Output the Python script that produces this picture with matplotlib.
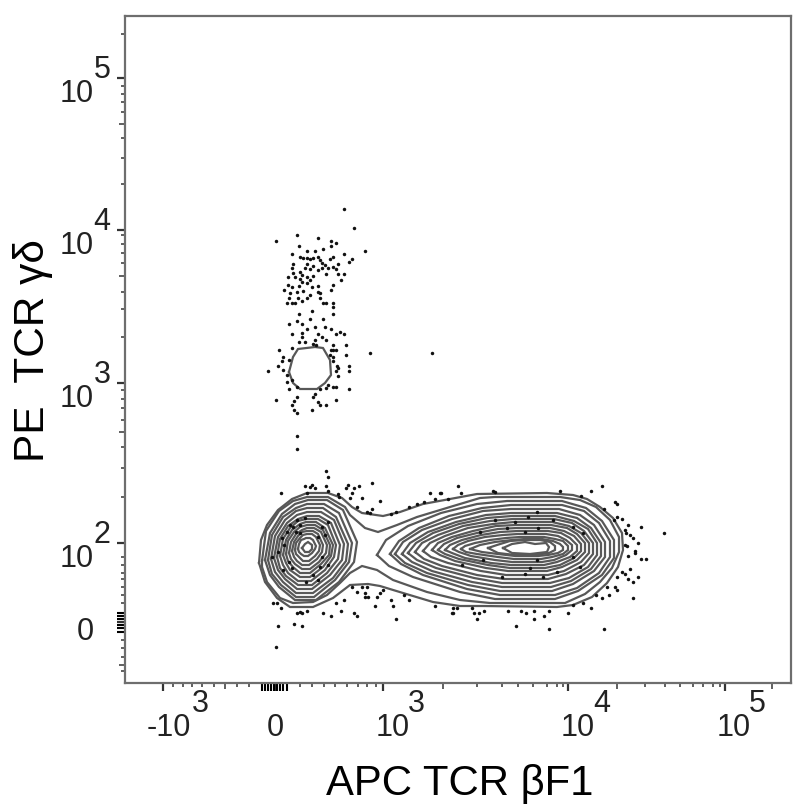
import matplotlib
matplotlib.use("Agg")
from matplotlib import pyplot as plt

# everything is in plot channels of the biexponential display, not in raw fluorescence
x_major = [163, 275, 383, 568, 725]
x_base = ["-10", "0", "10", "10", "10"]
x_exp = ["3", "", "3", "4", "5"]
x_nudge = [-16, -8, -7, -7, -8]
y_major = [78, 230, 383, 543]
y_base = ["10", "10", "10", "10"]
y_exp = ["5", "4", "3", "2"]
y_zero = 622

x_medium = [225, 443, 617, 772]
y_medium = [124, 276, 432, 665]
x_dense = [262, 265, 268, 271, 274, 277, 280, 283, 287]
y_dense = [613, 616, 619, 625, 628, 632]
x_minor = [173, 183, 192, 202, 214, 237, 249, 300, 312, 324, 335, 347, 358, 367, 376,
           477, 502, 518, 533, 547, 557, 563, 645, 665, 680, 693, 703, 713, 720]
y_minor = [34, 86, 94, 102, 112, 138, 158, 184, 235, 244, 253, 263, 292, 309, 337, 390, 399, 408, 420, 447, 468, 497,
           557, 565, 573, 579, 587, 595, 603, 640, 648, 657, 671]

# two outer contours run through both populations
dumbbell_1 = [(259, 563), (261, 540), (267, 525), (278, 510), (292, 499), (307, 493), (328, 493), (342, 498), (352, 507),
              (362, 513), (383, 516), (400, 512), (423, 504), (450, 499), (477, 494), (547, 493), (573, 495), (587, 499),
              (600, 507), (613, 518), (622, 533), (623, 550), (618, 567), (607, 583), (592, 597), (573, 605), (557, 607),
              (483, 606), (460, 606), (433, 602), (403, 593), (380, 586), (368, 584), (350, 585), (333, 598), (313, 607),
              (290, 607), (277, 598), (265, 582)]
dumbbell_2 = [(262, 561), (266, 531), (279, 511), (293, 501), (307, 497), (328, 497), (345, 507), (350, 515), (365, 528),
              (378, 532), (397, 525), (417, 517), (450, 507), (480, 498), (495, 497), (560, 497), (580, 500), (596, 507),
              (610, 520), (619, 537), (619, 552), (612, 568), (600, 582), (585, 594), (565, 603), (490, 603), (460, 600),
              (427, 592), (393, 580), (377, 570), (362, 566), (350, 573), (340, 583), (327, 595), (313, 602), (293, 603),
              (280, 598), (267, 582), (262, 567)]

left_rings = [
    [(265, 560), (270, 533), (282, 514), (295, 504), (308, 500), (327, 500), (343, 510), (357, 542), (354, 562), (339, 582), (316, 600), (295, 600), (279, 587), (270, 575)],
    [(268, 560), (272, 535), (283, 517), (296, 508), (307, 504), (324, 504), (339, 513), (352, 543), (349, 562), (335, 580), (314, 597), (296, 597), (281, 585), (272, 574)],
    [(271, 559), (275, 536), (285, 520), (296, 511), (307, 508), (323, 508), (336, 517), (348, 544), (346, 561), (333, 578), (313, 593), (296, 593), (283, 582), (275, 572)],
    [(274, 558), (278, 537), (287, 523), (297, 515), (307, 512), (321, 512), (334, 520), (344, 544), (342, 560), (330, 575), (312, 589), (297, 589), (285, 579), (278, 570)],
    [(277, 557), (280, 539), (288, 526), (298, 519), (307, 516), (319, 516), (331, 523), (340, 545), (338, 559), (327, 573), (312, 585), (298, 585), (286, 576), (280, 568)],
    [(280, 556), (283, 539), (290, 528), (298, 521), (306, 519), (318, 519), (328, 525), (336, 545), (334, 557), (325, 570), (311, 581), (298, 581), (288, 573), (283, 565)],
    [(283, 555), (286, 540), (292, 530), (300, 524), (306, 522), (316, 522), (325, 528), (333, 545), (331, 556), (323, 567), (310, 577), (300, 577), (290, 570), (286, 563)],
    [(286, 554), (288, 541), (294, 532), (300, 527), (307, 525), (315, 525), (323, 530), (330, 545), (329, 555), (321, 564), (310, 573), (300, 573), (293, 567), (288, 561)],
    [(289, 553), (291, 542), (296, 534), (302, 530), (307, 528), (314, 528), (321, 532), (327, 545), (326, 553), (319, 562), (310, 569), (302, 569), (295, 564), (291, 559)],
    [(292, 551), (294, 542), (298, 536), (302, 532), (307, 531), (313, 531), (318, 534), (323, 545), (322, 552), (317, 559), (309, 565), (302, 565), (297, 561), (294, 557)],
    [(295, 550), (296, 543), (300, 538), (303, 535), (307, 534), (312, 534), (316, 537), (320, 545), (319, 551), (315, 556), (309, 561), (303, 561), (299, 557), (296, 554)],
    [(298, 549), (299, 544), (301, 540), (304, 539), (306, 538), (310, 538), (313, 540), (316, 546), (315, 549), (312, 553), (308, 556), (304, 556), (301, 554), (299, 552)],
    [(302, 548), (305, 544), (308, 542), (312, 545), (312, 549), (309, 552), (305, 552)],
]

right_rings = [
    [(377, 555), (386, 540), (408, 526), (441, 513), (477, 504), (507, 501), (562, 501), (586, 508), (602, 521), (614, 540), (614, 558), (602, 575), (578, 591), (555, 599), (495, 599), (460, 592), (413, 577), (389, 566)],
    [(390, 554), (399, 541), (419, 528), (449, 516), (482, 508), (511, 505), (562, 505), (584, 511), (599, 523), (610, 541), (610, 557), (599, 573), (577, 588), (555, 595), (500, 595), (467, 589), (423, 575), (401, 564)],
    [(395, 554), (403, 542), (422, 530), (452, 519), (483, 511), (511, 509), (559, 509), (580, 515), (594, 525), (605, 542), (605, 557), (594, 571), (573, 584), (552, 591), (500, 591), (468, 585), (427, 573), (405, 563)],
    [(402, 554), (410, 543), (428, 532), (456, 522), (486, 515), (511, 513), (557, 513), (577, 518), (591, 528), (601, 543), (601, 556), (591, 569), (571, 581), (551, 587), (502, 587), (472, 582), (432, 571), (412, 562)],
    [(408, 553), (416, 543), (433, 533), (459, 524), (487, 518), (512, 516), (555, 516), (574, 521), (588, 529), (597, 543), (597, 555), (588, 567), (569, 578), (550, 583), (502, 583), (474, 578), (436, 568), (417, 560)],
    [(415, 552), (422, 543), (438, 535), (463, 526), (490, 521), (513, 519), (554, 519), (572, 523), (584, 531), (593, 543), (593, 554), (584, 565), (566, 574), (548, 579), (504, 579), (477, 575), (442, 566), (424, 559)],
    [(423, 551), (430, 543), (445, 536), (468, 528), (493, 524), (514, 522), (552, 522), (569, 526), (581, 533), (589, 543), (589, 553), (581, 562), (564, 571), (548, 575), (506, 575), (481, 571), (448, 563), (431, 557)],
    [(432, 550), (438, 543), (452, 537), (473, 531), (496, 526), (516, 525), (551, 525), (567, 528), (577, 534), (585, 543), (585, 552), (577, 560), (562, 567), (547, 571), (508, 571), (486, 568), (455, 561), (440, 555)],
    [(438, 550), (444, 544), (457, 538), (477, 533), (498, 529), (517, 528), (550, 528), (564, 531), (574, 536), (581, 544), (581, 551), (574, 558), (560, 565), (545, 568), (510, 568), (488, 565), (459, 559), (445, 554)],
    [(445, 550), (450, 545), (462, 540), (481, 535), (500, 532), (518, 531), (548, 531), (561, 533), (570, 538), (577, 545), (577, 551), (570, 557), (557, 562), (544, 565), (511, 565), (491, 563), (465, 558), (452, 553)],
    [(453, 549), (458, 545), (468, 541), (485, 537), (503, 535), (518, 534), (546, 534), (558, 536), (566, 540), (572, 545), (572, 550), (566, 555), (554, 560), (542, 562), (512, 562), (495, 560), (471, 556), (459, 552)],
    [(461, 549), (465, 546), (475, 543), (490, 540), (506, 538), (520, 537), (544, 537), (555, 539), (563, 541), (568, 546), (568, 550), (563, 554), (552, 557), (541, 559), (514, 559), (498, 557), (477, 554), (466, 552)],
    [(470, 549), (480, 545), (495, 542), (512, 540), (525, 539), (542, 539), (553, 541), (560, 544), (563, 547), (563, 550), (558, 553), (548, 555), (538, 556), (515, 556), (498, 554), (482, 552)],
    [(488, 548), (497, 545), (510, 541), (525, 540), (540, 540), (550, 542), (555, 546), (555, 550), (549, 553), (535, 555), (515, 555), (498, 553)],
    [(503, 548), (512, 544), (525, 542), (535, 544), (546, 543), (549, 547), (547, 552), (530, 554), (512, 553)],
]

gd_contour = [(289, 372), (293, 357), (298, 349), (315, 347), (323, 348), (330, 360), (331, 375), (325, 383), (317, 389), (300, 389), (293, 383)]

gd_high_dots = [(344, 209), (354, 228), (297, 235), (318, 238), (276, 241), (331, 241), (336, 243), (299, 246), (331, 246), (323, 249),
                (365, 251), (307, 251), (315, 251), (292, 254), (344, 254), (300, 257), (303, 258), (307, 258), (310, 259), (313, 258),
                (318, 257), (320, 260), (322, 263), (325, 265), (328, 268), (333, 257), (330, 259), (352, 259), (349, 262), (293, 264),
                (292, 268), (307, 264), (313, 266), (318, 270), (322, 268), (338, 264), (333, 267), (336, 269), (300, 272), (302, 275),
                (310, 269), (305, 268), (326, 274), (344, 274), (338, 274), (341, 280), (293, 273), (288, 277), (295, 277), (300, 279),
                (302, 282), (307, 277), (313, 276), (310, 280), (307, 283), (333, 285), (331, 290), (318, 286), (312, 287), (299, 286),
                (288, 285), (292, 287), (284, 290), (290, 293), (297, 292), (303, 291), (318, 292), (310, 295), (307, 298), (320, 293),
                (320, 298), (289, 298), (298, 298), (302, 301), (292, 303), (295, 303), (287, 303), (323, 303), (326, 303), (333, 303), (333, 307)]
gd_low_dots = [(312, 311), (299, 314), (333, 314), (310, 319), (323, 319), (297, 321), (289, 324), (302, 324), (315, 327), (307, 329),
               (325, 327), (331, 329), (292, 334), (302, 333), (302, 337), (318, 334), (340, 332), (336, 334), (344, 334), (322, 337),
               (326, 340), (315, 340), (299, 342), (305, 342), (292, 348), (313, 344), (316, 345), (346, 345), (333, 345), (331, 350),
               (333, 350), (336, 350), (279, 350), (370, 353), (432, 353), (346, 355), (330, 355), (333, 357), (283, 357), (282, 361),
               (289, 360), (333, 361), (278, 366), (337, 366), (338, 368), (349, 366), (349, 371), (268, 371), (336, 371), (283, 370),
               (287, 375), (338, 376), (287, 382), (292, 380), (289, 389), (297, 387), (328, 385), (326, 388), (333, 387), (336, 387),
               (349, 389), (320, 389), (276, 400), (297, 397), (294, 401), (315, 394), (313, 397), (318, 402), (320, 405), (326, 405),
               (336, 400), (292, 405), (294, 410), (297, 413), (312, 410), (297, 436), (297, 449)]
above_dots = [(326, 471), (328, 477), (305, 486), (310, 487), (312, 485), (315, 488), (326, 486), (348, 485), (346, 488), (354, 488),
              (359, 486), (372, 483), (281, 493), (307, 493), (328, 491), (338, 494), (339, 497), (352, 493), (350, 498), (362, 498),
              (380, 501), (357, 507), (372, 509), (367, 512), (370, 513), (391, 514), (396, 512), (409, 507), (417, 504), (424, 502),
              (430, 493), (435, 499), (440, 493), (458, 486), (441, 493), (461, 493), (448, 499), (493, 491), (495, 492), (560, 491),
              (591, 491), (602, 486), (581, 496)]
right_edge_dots = [(615, 502), (617, 504), (604, 509), (617, 517), (622, 519), (614, 520), (628, 525), (641, 527), (625, 530), (626, 533),
                   (630, 535), (633, 538), (664, 533), (638, 543), (625, 545), (627, 546), (635, 551), (635, 553), (628, 556), (641, 559),
                   (646, 559), (630, 569), (622, 572), (625, 574), (638, 577), (617, 577), (628, 579), (633, 582), (607, 587), (615, 587),
                   (617, 590), (609, 595), (596, 595), (602, 598), (633, 598)]
below_dots = [(273, 603), (277, 603), (281, 608), (297, 613), (300, 612), (302, 613), (307, 611), (323, 613), (331, 616), (341, 611),
              (336, 603), (344, 600), (354, 613), (357, 616), (278, 626), (294, 624), (302, 626), (276, 647), (352, 587), (357, 592),
              (362, 587), (367, 587), (365, 593), (365, 597), (368, 597), (377, 597), (380, 593), (383, 590), (375, 606), (391, 600),
              (393, 606), (396, 619), (404, 595), (409, 600), (435, 606), (583, 603), (573, 605), (591, 608), (453, 608), (457, 608),
              (452, 613), (453, 613), (472, 608), (474, 613), (479, 613), (484, 611), (477, 619), (508, 611), (521, 611), (526, 613),
              (534, 611), (534, 619), (544, 616), (549, 611), (568, 613), (516, 626), (549, 629), (604, 629)]
inside_dots = [(537, 512), (528, 517), (515, 522), (507, 528), (495, 520), (480, 532), (538, 528), (525, 532), (553, 520), (573, 527),
               (583, 533), (537, 560), (530, 568), (525, 574), (543, 577), (557, 572), (502, 577), (483, 560), (462, 565), (573, 557),
               (580, 567), (297, 520), (293, 527), (287, 532), (282, 538), (300, 533), (318, 537), (322, 527), (272, 557), (292, 568),
               (320, 567), (313, 575), (322, 557), (328, 522), (290, 525), (296, 532), (284, 545), (278, 552), (289, 562), (283, 570),
               (300, 525), (305, 518), (325, 535), (328, 565), (318, 580), (306, 582)]

plt.rcParams['font.family'] = ['Liberation Sans', 'DejaVu Sans']

fig = plt.figure(figsize=(8.05, 8.06), dpi=100)
ax = fig.add_axes([124.5 / 805, (806 - 682.5) / 806, 666.5 / 805, 666.5 / 806])
ax.set_xlim(124.5, 791)
ax.set_ylim(682.5, 16)

for ring in [dumbbell_1, dumbbell_2, gd_contour] + left_rings + right_rings:
    xs, ys = zip(*(ring + ring[:1]))
    ax.plot(xs, ys, color='#585858', linewidth=1.6, solid_joinstyle='miter')

for group in [gd_high_dots, gd_low_dots, above_dots, right_edge_dots, below_dots, inside_dots]:
    xs, ys = zip(*group)
    ax.plot(xs, ys, linestyle='none', marker='o', markersize=2.5, markeredgewidth=0, color='#111111')

for side in ax.spines.values():
    side.set_color('#6e6e6e')
    side.set_linewidth(1.6)

ax.set_xticks(x_major)
ax.set_yticks(y_major + [y_zero])
ax.set_xticks(x_minor + x_medium + x_dense, minor=True)
ax.set_yticks(y_minor + y_medium + y_dense, minor=True)
ax.tick_params(which='major', length=6, width=1.6, color='#333333', labelbottom=False, labelleft=False)
ax.tick_params(which='minor', length=3, width=1.2, color='#444444')
for tick in ax.xaxis.get_minor_ticks()[len(x_minor):len(x_minor) + len(x_medium)] + ax.yaxis.get_minor_ticks()[len(y_minor):len(y_minor) + len(y_medium)]:
    tick.tick1line.set_markersize(4.5)
for tick in ax.xaxis.get_minor_ticks()[len(x_minor) + len(x_medium):] + ax.yaxis.get_minor_ticks()[len(y_minor) + len(y_medium):]:
    tick.tick1line.set_markersize(5.5)
    tick.tick1line.set_markeredgewidth(1.5)
    tick.tick1line.set_markeredgecolor('#000000')

for pos, base, exp, nudge in zip(x_major, x_base, x_exp, x_nudge):
    ax.annotate(base, (pos, 682.5), xytext=(nudge, -54), textcoords='offset pixels', fontsize=22, color='#222222', ha='left', va='baseline')
    if exp:
        width = {"-10": 45, "10": 32}[base]
        ax.annotate(exp, (pos, 682.5), xytext=(nudge + width, -30), textcoords='offset pixels', fontsize=22, color='#222222', ha='left', va='baseline')

for pos, base, exp in zip(y_major, y_base, y_exp):
    ax.annotate(base, (124.5, pos), xytext=(-31, -24), textcoords='offset pixels', fontsize=22, color='#222222', ha='right', va='baseline')
    ax.annotate(exp, (124.5, pos), xytext=(-31, 0), textcoords='offset pixels', fontsize=22, color='#222222', ha='left', va='baseline')
ax.annotate("0", (124.5, y_zero), xytext=(-31, -18), textcoords='offset pixels', fontsize=22, color='#222222', ha='right', va='baseline')

fig.text(326 / 805, 1 - 795 / 806, 'APC TCR \u03b2F1', fontsize=30.2, color='black', ha='left', va='baseline')
fig.text(44 / 805, 1 - 462 / 806, 'PE  TCR \u03b3\u03b4', fontsize=30.5, color='black', rotation=90, rotation_mode='anchor', ha='left', va='baseline')

fig.savefig('out.png', dpi=100)
